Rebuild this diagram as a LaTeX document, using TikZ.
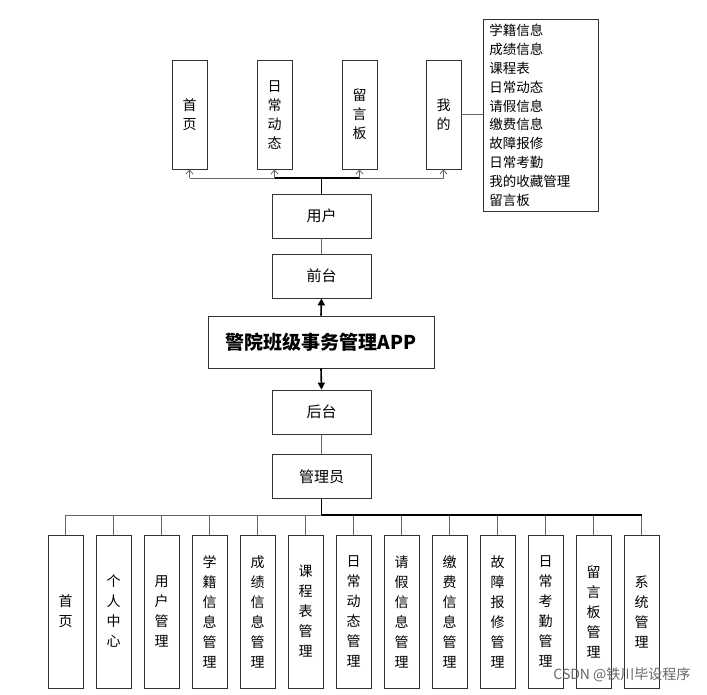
\documentclass[tikz,border=0pt]{standalone}
\usepackage{fontspec}
\setmainfont{Noto Sans CJK SC}
\usetikzlibrary{arrows.meta}
\begin{document}
\begin{tikzpicture}[x=1pt,y=-1pt,
 bx/.style={draw=black!80,thick,fill=white,inner sep=0pt,font=\fontsize{15}{17}\selectfont},
 vb/.style={bx,minimum width=35pt,align=center,font=\fontsize{14}{19}\selectfont},
 ln/.style={draw=black!60,thick},
 bln/.style={draw=black,line width=1.6pt}]
\useasboundingbox (0,0) rectangle (707,694);
\foreach \n/\x/\t in {a/189.5/{首\\页},b/274.5/{日\\常\\动\\态},c/359.5/{留\\言\\板},d/443.5/{我\\的}}
  \node[vb,minimum height=109pt] (\n) at (\x,114.5) {\t};
\node[bx,anchor=north west,align=left,minimum width=115pt,minimum height=192pt,inner xsep=6pt,text width=103pt,font=\fontsize{13.5}{18.8}\selectfont] (info) at (483,19) {学籍信息\\成绩信息\\课程表\\日常动态\\请假信息\\缴费信息\\故障报修\\日常考勤\\我的收藏管理\\留言板};
\draw[ln] (d.east) -- (d.east -| info.west);
\node[bx,minimum width=99pt,minimum height=44pt] (yh) at (321.5,216) {用户};
\node[bx,minimum width=99pt,minimum height=44pt] (qt) at (321.5,276) {前台};
\node[bx,minimum width=226pt,minimum height=52pt,font=\fontsize{19}{21}\selectfont\bfseries] (m) at (321,342) {警院班级事务管理APP};
\node[bx,minimum width=99pt,minimum height=44pt] (ht) at (321.5,412) {后台};
\node[bx,minimum width=99pt,minimum height=44pt] (gl) at (321.5,476.5) {管理员};
\coordinate (tb) at (321.5,178);
\draw[bln] (yh.north) -- (tb);
\draw[ln] (a.south |- tb) -- (d.south |- tb);
\draw[bln] (b.south |- tb) -- (c.south |- tb);
\foreach \n in {a,b,c,d} \draw[ln,-{Straight Barb[length=4pt,width=7pt]}] (\n.south |- tb) -- (\n.south);
\draw[ln] (yh.south) -- (qt.north);
\draw[bln,-{Triangle[length=7pt,width=7pt]}] (m.north) -- (qt.south);
\draw[bln,-{Triangle[length=7pt,width=7pt]}] (m.south) -- (ht.north);
\draw[ln] (ht.south) -- (gl.north);
\coordinate (bb) at (321.5,515);
\foreach \i/\t in {0/{首\\页},1/{个\\人\\中\\心},2/{用\\户\\管\\理},3/{学\\籍\\信\\息\\管\\理},4/{成\\绩\\信\\息\\管\\理},5/{课\\程\\表\\管\\理},6/{日\\常\\动\\态\\管\\理},7/{请\\假\\信\\息\\管\\理},8/{缴\\费\\信\\息\\管\\理},9/{故\\障\\报\\修\\管\\理},10/{日\\常\\考\\勤\\管\\理},11/{留\\言\\板\\管\\理},12/{系\\统\\管\\理}}
  {\node[vb,minimum height=153pt,font=\fontsize{14}{20}\selectfont] (l\i) at (65.5+48*\i,611.5) {\t};
   \draw[ln] (l\i.north |- bb) -- (l\i.north);}
\draw[ln] (l0.north |- bb) -- (l12.north |- bb);
\draw[bln] (gl.south) -- (bb);
\draw[bln] (bb) -- (bb -| l12.north);
\node[anchor=east,text=black!60,font=\fontsize{14}{16}\selectfont] (wm) at (694,675) {CSDN @铁川毕设程序};
\end{tikzpicture}
\end{document}
